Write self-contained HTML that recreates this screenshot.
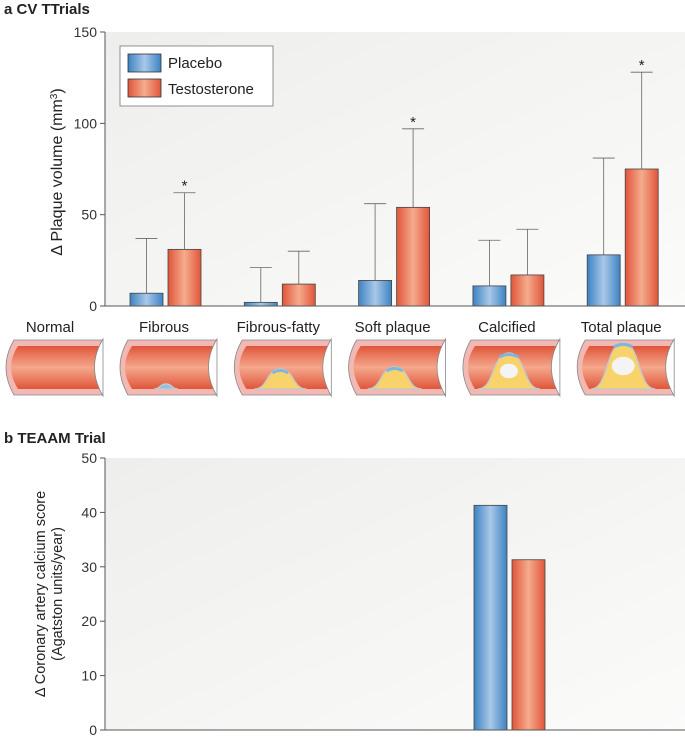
<!DOCTYPE html>
<html><head><meta charset="utf-8"><style>
body{margin:0;background:#fff;font-family:"Liberation Sans",sans-serif;}
svg text{font-family:"Liberation Sans",sans-serif;}
</style></head><body>
<svg id="s" width="685" height="736" viewBox="0 0 685 736" xmlns="http://www.w3.org/2000/svg">
<defs>
<linearGradient id="gb" x1="0" x2="1"><stop offset="0" stop-color="#3d83c2"/><stop offset="0.5" stop-color="#a9c8e8"/><stop offset="1" stop-color="#3d83c2"/></linearGradient>
<linearGradient id="gr" x1="0" x2="1"><stop offset="0" stop-color="#e0553a"/><stop offset="0.5" stop-color="#f6ab8d"/><stop offset="1" stop-color="#e0553a"/></linearGradient>
<linearGradient id="bg" x1="0" y1="0" x2="1" y2="1"><stop offset="0" stop-color="#eeeeec"/><stop offset="1" stop-color="#fbfbfa"/></linearGradient>
<linearGradient id="art" x1="0" y1="0" x2="0" y2="1"><stop offset="0" stop-color="#e0553a"/><stop offset="0.5" stop-color="#f4a88c"/><stop offset="1" stop-color="#e0553a"/></linearGradient>
</defs>
<text x="4" y="14" font-size="15" font-weight="bold" fill="#222">a  CV TTrials</text>
<text x="4" y="443" font-size="15" font-weight="bold" fill="#222">b  TEAAM Trial</text>
<rect x="105" y="32" width="580" height="274" fill="url(#bg)"/>
<rect x="105" y="458" width="580" height="272" fill="url(#bg)"/>
<g id="ga"></g><g id="gbp"></g><g id="arteries"></g>
<text transform="translate(62,172) rotate(-90)" text-anchor="middle" font-size="16" fill="#222">Δ Plaque volume (mm<tspan font-size="10" dy="-5">3</tspan><tspan dy="5">)</tspan></text>
<text transform="translate(45,594) rotate(-90)" text-anchor="middle" font-size="14.5" fill="#222">Δ Coronary artery calcium score</text>
<text transform="translate(62,594) rotate(-90)" text-anchor="middle" font-size="14.5" fill="#222">(Agatston units/year)</text>
<g>
<rect x="120" y="46" width="153" height="60" fill="#fff" stroke="#777" stroke-width="0.8"/>
<rect x="128" y="54" width="33" height="18" fill="url(#gb)" stroke="#333" stroke-width="0.8"/>
<text x="168" y="68" font-size="15" fill="#222">Placebo</text>
<rect x="128" y="79" width="33" height="18" fill="url(#gr)" stroke="#333" stroke-width="0.8"/>
<text x="168" y="94" font-size="15" fill="#222">Testosterone</text>
</g>
</svg>
<script>
const categories=["Fibrous","Fibrous-fatty","Soft plaque","Calcified","Total plaque"];
const placebo=[7,2,14,11,28];
const placeboErr=[37,21,56,36,81];
const testo=[31,12,54,17,75];
const testoErr=[62,30,97,42,128];
const sig=[true,false,true,false,true];
const ticksA=[0,50,100,150];
const ticksB=[0,10,20,30,40,50];
const bPlacebo=[41.3];
const bTesto=[31.3];
const labels=["Normal","Fibrous","Fibrous-fatty","Soft plaque","Calcified","Total plaque"];
const NS="http://www.w3.org/2000/svg";
function mk(p,t,a){const e=document.createElementNS(NS,t);for(const k in a)e.setAttribute(k,a[k]);p.appendChild(e);return e;}
const ya=v=>306-v*274/150;
const yb=v=>730-v*272/50;
const ga=document.getElementById('ga');
const gbp=document.getElementById('gbp');
let ax=mk(ga,'line',{x1:105,y1:32,x2:105,y2:306,stroke:'#555','stroke-width':1});

ticksA.forEach(t=>{
  let l=mk(ga,'line',{x1:100,x2:105,y1:ya(t),y2:ya(t),stroke:'#555'});
  
  let tx=mk(ga,'text',{x:97,y:ya(t)+5,'text-anchor':'end','font-size':14,fill:'#333'});tx.textContent=t;
  
});
const groupX=i=>130+i*114.3;
categories.forEach((c,i)=>{
  const x0=groupX(i), x1=x0+38, w=33;
  [[x0,placebo[i],placeboErr[i],'url(#gb)','placebo'],[x1,testo[i],testoErr[i],'url(#gr)','testosterone']].forEach(([x,v,e,f,n])=>{
    let el=mk(ga,'line',{x1:x+w/2,x2:x+w/2,y1:ya(v),y2:ya(e),stroke:'#666','stroke-width':0.8});
    
    let cap=mk(ga,'line',{x1:x+w/2-11,x2:x+w/2+11,y1:ya(e),y2:ya(e),stroke:'#666','stroke-width':0.8});
    
    let r=mk(ga,'rect',{x:x,y:ya(v),width:w,height:306-ya(v),fill:f,stroke:'#444','stroke-width':0.8});
    
  });
  if(sig[i]){let s=mk(ga,'text',{x:x1+w/2,y:ya(testoErr[i])-2,'text-anchor':'middle','font-size':15,fill:'#222'});s.textContent='*';
    }
});
let base=mk(ga,'line',{x1:105,x2:685,y1:306,y2:306,stroke:'#555'});

let bx=mk(gbp,'line',{x1:105,y1:458,x2:105,y2:730,stroke:'#555'});

ticksB.forEach(t=>{
  let l=mk(gbp,'line',{x1:100,x2:105,y1:yb(t),y2:yb(t),stroke:'#555'});
  
  let tx=mk(gbp,'text',{x:97,y:yb(t)+5,'text-anchor':'end','font-size':14,fill:'#333'});tx.textContent=t;
  
});
let rb=mk(gbp,'rect',{x:474,y:yb(bPlacebo[0]),width:33,height:730-yb(bPlacebo[0]),fill:'url(#gb)',stroke:'#444','stroke-width':0.8});

let rt=mk(gbp,'rect',{x:512,y:yb(bTesto[0]),width:33,height:730-yb(bTesto[0]),fill:'url(#gr)',stroke:'#444','stroke-width':0.8});

let bb=mk(gbp,'line',{x1:105,x2:685,y1:730,y2:730,stroke:'#555'});

const ar=document.getElementById('arteries');
const plaque=[null,{w:24,h:5},{w:52,h:20,b:1},{w:54,h:22,b:1},{w:62,h:36,b:1,c:1},{w:64,h:46,b:1,c:1}];
labels.forEach((lab,i)=>{
  const cx=i==0?50:groupX(i-1)+34;
  const x=cx-48;
  let t=mk(ar,'text',{x:cx,y:332,'text-anchor':'middle','font-size':15,fill:'#222'});t.textContent=lab;
  
  const g=mk(ar,'g',{});
  
  mk(g,'path',{d:`M${x+12},340 L${x+100},340 L${x+100},395 L${x+12},395 Q${x-4},367 ${x+12},340 Z`,fill:'#f2b8b4',stroke:'#888','stroke-width':0.8});
  mk(g,'path',{d:`M${x+16},346 L${x+100},346 L${x+100},389 L${x+16},389 Q${x+2},367 ${x+16},346 Z`,fill:'url(#art)'});
  mk(g,'path',{d:`M${x+101},339 Q${x+84},367 ${x+101},396 Z`,fill:'#fff',stroke:'#888','stroke-width':0.8});
  const p=plaque[i];
  if(p){
    const px=cx+2, hw=p.w/2, top=389-p.h;
    mk(g,'path',{d:`M${px-hw},389 C${px-hw*0.45},389 ${px-hw*0.55},${top} ${px},${top} C${px+hw*0.55},${top} ${px+hw*0.45},389 ${px+hw},389 Z`,fill:p.b?'#f8d36a':'#8ec1e6',stroke:'#c8c8c8','stroke-width':1.5});
    if(p.b) mk(g,'path',{d:`M${px-hw*0.3},${top+4} Q${px},${top-1} ${px+hw*0.3},${top+4}`,fill:'none',stroke:'#7fb6e0','stroke-width':3});
    if(p.c) mk(g,'ellipse',{cx:px,cy:389-p.h*0.5,rx:p.h*0.25,ry:p.h*0.2,fill:'#f4f4f4'});
  }
});
</script>
</body></html>
